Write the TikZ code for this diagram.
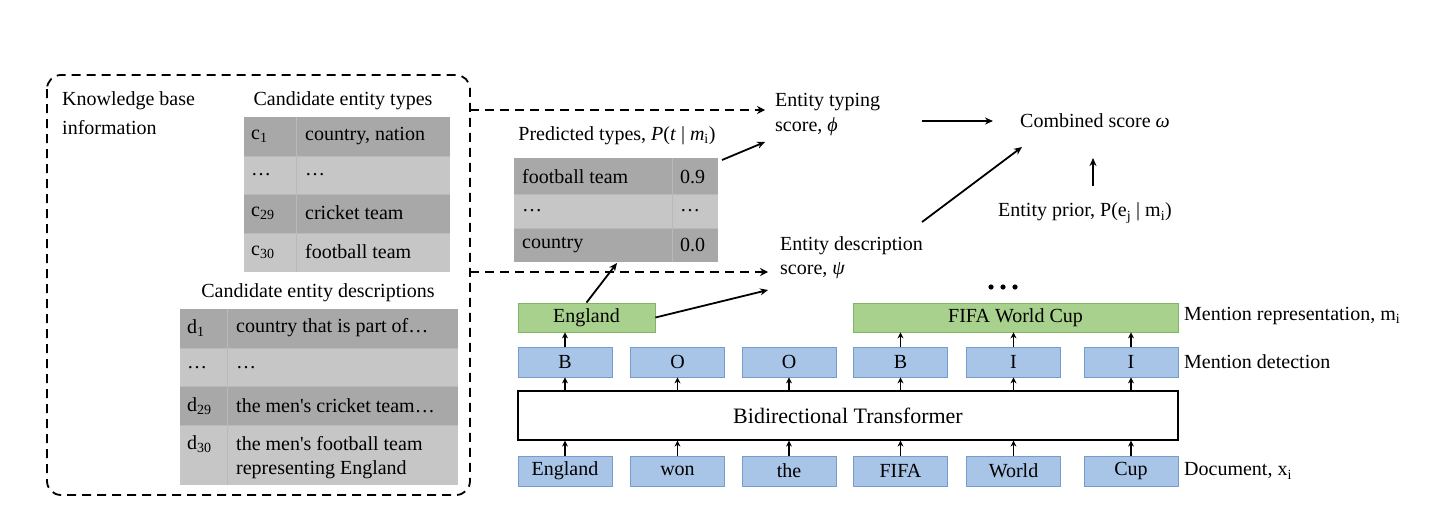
\documentclass[tikz,border=0pt]{standalone}
\usepackage{fontspec}
\setmainfont{Liberation Serif}
\usetikzlibrary{arrows.meta}
\definecolor{bfill}{RGB}{168,196,230}
\definecolor{bdraw}{RGB}{120,155,205}
\definecolor{gfill}{RGB}{169,209,142}
\definecolor{gdraw}{RGB}{130,180,100}
\definecolor{dkg}{RGB}{168,168,168}
\definecolor{ltg}{RGB}{198,198,198}
\begin{document}
\begin{tikzpicture}[x=1pt,y=-1pt,
  txt/.style={font=\fontsize{20}{23}\selectfont,inner sep=0pt},
  lbl/.style={txt,anchor=west},
  bbox/.style={draw=bdraw,fill=bfill,line width=0.8pt,minimum width=94pt,minimum height=30pt,inner sep=0pt,font=\fontsize{20}{23}\selectfont},
  gbox/.style={draw=gdraw,fill=gfill,line width=0.8pt,minimum height=29pt,inner sep=0pt,font=\fontsize{20}{23}\selectfont},
  arr/.style={-{Stealth[length=8pt,width=7pt]},line width=1.8pt},
  sarr/.style={-{Stealth[length=6pt,width=6pt]},line width=1.5pt},
  dsh/.style={dash pattern=on 9pt off 6pt,line width=1.8pt},
  dk/.style={fill=dkg}, lt/.style={fill=ltg}, sep/.style={draw=gray!55,line width=0.6pt}]
\useasboundingbox (0,0) rectangle (1440,514);
% KB box
\draw[dsh,rounded corners=14pt] (47,75) rectangle (470,495);
\node[lbl] (kb1) at (62,101) {Knowledge base};
\node[lbl] (kb2) at (62,128) {information};
\node[txt] (cet) at (343,101) {Candidate entity types};
% table 1
\fill[dk] (244,117) rectangle (450,156);
\fill[lt] (244,156) rectangle (450,194);
\fill[dk] (244,194) rectangle (450,233);
\fill[lt] (244,233) rectangle (450,272);
\draw[sep] (296,117) -- (296,272) (244,156)--(450,156) (244,194)--(450,194) (244,233)--(450,233);
\node[lbl] (c1) at (251,136) {c\textsubscript{1}};
\node[lbl] (c1t) at (305,136) {country, nation};
\node[lbl] (c2) at (251,175) {\dots};
\node[lbl] (c2t) at (305,175) {\dots};
\node[lbl] (c3) at (251,213) {c\textsubscript{29}};
\node[lbl] (c3t) at (305,213) {cricket team};
\node[lbl] (c4) at (251,252) {c\textsubscript{30}};
\node[lbl] (c4t) at (305,252) {football team};
% table 2
\node[txt] (ced) at (318,293) {Candidate entity descriptions};
\fill[dk] (180,309) rectangle (458,348);
\fill[lt] (180,348) rectangle (458,386);
\fill[dk] (180,386) rectangle (458,425);
\fill[lt] (180,425) rectangle (458,485);
\draw[sep] (227,309) -- (227,485) (180,348)--(458,348) (180,386)--(458,386) (180,425)--(458,425);
\node[lbl] (d1) at (187,328) {d\textsubscript{1}};
\node[lbl] (d1t) at (236,328) {country that is part of\dots};
\node[lbl] (d2) at (187,368) {\dots};
\node[lbl] (d2t) at (236,368) {\dots};
\node[lbl] (d3) at (187,406) {d\textsubscript{29}};
\node[lbl] (d3t) at (236,406) {the men\textquotesingle s cricket team\dots};
\node[lbl] (d4) at (187,444) {d\textsubscript{30}};
\node[lbl] (d4t) at (236,444) {the men\textquotesingle s football team};
\node[lbl] (d4u) at (236,470) {representing England};
% predicted types
\node[txt] (pt) at (617,136) {Predicted types, \textit{P}(\textit{t} | \textit{m}\textsubscript{i})};
\fill[dk] (514,158) rectangle (718,194);
\fill[lt] (514,194) rectangle (718,228);
\fill[dk] (514,228) rectangle (718,262);
\draw[sep] (672,158)--(672,262) (514,194)--(718,194) (514,228)--(718,228);
\node[lbl] (p1) at (522,177) {football team};
\node[lbl] (p1v) at (680,177) {0.9};
\node[lbl] (p2) at (522,211) {\dots};
\node[lbl] (p2v) at (680,211) {\dots};
\node[lbl] (p3) at (522,245) {country};
\node[lbl] (p3v) at (680,245) {0.0};
\coordinate (ptab) at (617,263);
\coordinate (ptr) at (722,160);
% scores
\node[lbl] (ets1) at (775,102) {Entity typing};
\node[lbl] (ets2) at (775,127) {score, \textit{ϕ}};
\node[txt] (cs) at (1095,121) {Combined score \textit{ω}};
\node[lbl] (eds1) at (780,246) {Entity description};
\node[lbl] (eds2) at (780,271) {score, \textit{ψ}};
\node[txt] (ep) at (1085,213) {Entity prior, P(e\textsubscript{j} | m\textsubscript{i})};
\foreach \dx in {-12,0,12} \fill (1003+\dx,287) circle (2.6pt);
\coordinate (tpa) at (765,110);
\coordinate (tpb) at (768,272);
\coordinate (kbr1) at (470,110);
\coordinate (kbr2) at (470,272);
\draw[dsh,-{Stealth[length=8pt,width=8pt]}] (kbr1) -- (tpa);
\draw[dsh,-{Stealth[length=8pt,width=8pt]}] (kbr2) -- (tpb);
\draw[arr] (922,121) -- (993,121);
\draw[arr] (922,222) -- (1022,147);
\draw[arr] (1093,186) -- (1093,158);
\draw[arr] (ptr) -- (765,142);
% mention rep
\node[gbox,minimum width=137pt] (eng) at (586.5,317.5) {England};
\node[gbox,minimum width=325pt] (fifa) at (1015.5,317.5) {FIFA World Cup};
\draw[arr] (eng.north) -- (ptab);
\draw[arr] (eng.east) -- (768,290);
% blue rows
\foreach \n/\x/\t/\w in {b1/565/B/England,b2/677.5/O/won,b3/789/O/the,b4/900.5/B/FIFA,b5/1013.5/I/World,b6/1131/I/Cup}{
  \node[bbox] (\n) at (\x,362) {\t};
  \node[bbox] (w\n) at (\x,471) {\w};
}
\node[draw,line width=1.2pt,minimum width=660pt,minimum height=49pt,inner sep=0pt,font=\fontsize{22}{26}\selectfont] (bt) at (848,415.5) {Bidirectional Transformer};
\foreach \n in {b1,b2,b3,b4,b5,b6}{
  \draw[sarr] (w\n.north) -- (w\n.north |- bt.south);
  \draw[sarr] (\n.south |- bt.north) -- (\n.south);
}
\draw[sarr] (b1.north) -- (b1.north |- eng.south);
\foreach \n in {b4,b5,b6} \draw[sarr] (\n.north) -- (\n.north |- fifa.south);
\node[lbl] (mr) at (1184,316) {Mention representation, m\textsubscript{i}};
\node[lbl] (md) at (1184,362) {Mention detection};
\node[lbl] (doc) at (1184,471) {Document, x\textsubscript{i}};
\end{tikzpicture}
\end{document}
